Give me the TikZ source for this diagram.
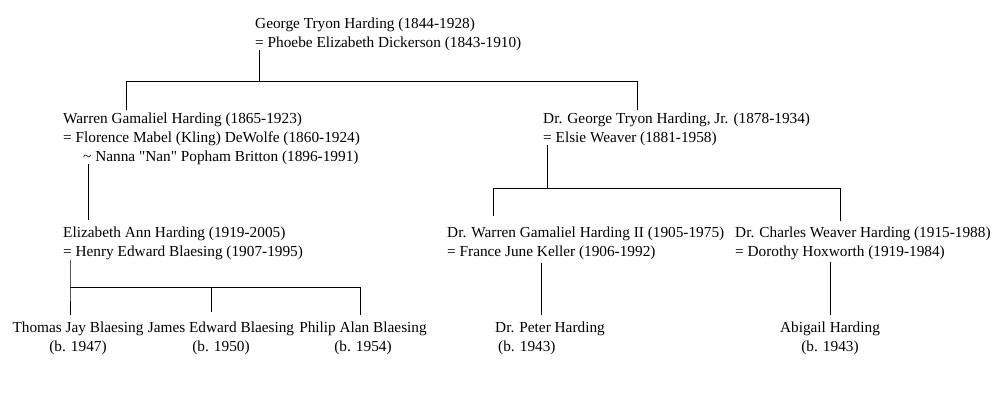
\documentclass[tikz,border=0pt]{standalone}
\usepackage{fontspec}
\setmainfont{Liberation Serif}

\begin{document}
\begin{tikzpicture}[x=1pt, y=1pt,
    person/.style={inner sep=0pt, align=left, anchor=base west, font=\fontsize{15.3}{19}\selectfont},
    kid/.style={inner sep=0pt, align=center, anchor=base, font=\fontsize{15.3}{19}\selectfont},
    link/.style={black, line width=0.9pt}]
\useasboundingbox (0,0) rectangle (1000,-400);
% first generation
\node[person] (gth) at (255,-47) {George Tryon Harding (1844-1928)\\= Phoebe Elizabeth Dickerson (1843-1910)};
% second generation
\node[person] (wgh) at (63,-161) {Warren Gamaliel Harding (1865-1923)\\= Florence Mabel (Kling) DeWolfe (1860-1924)\\\hspace*{20pt}\textasciitilde{} Nanna \textquotedbl Nan\textquotedbl{} Popham Britton (1896-1991)};
\node[person] (gtj) at (543,-142) {Dr. George Tryon Harding, Jr. (1878-1934)\\= Elsie Weaver (1881-1958)};
% third generation
\node[person] (eah) at (63,-256) {Elizabeth Ann Harding (1919-2005)\\= Henry Edward Blaesing (1907-1995)};
\node[person] (wg2) at (447,-256) {Dr. Warren Gamaliel Harding II (1905-1975)\\= France June Keller (1906-1992)};
\node[person] (cwh) at (735,-256) {Dr. Charles Weaver Harding (1915-1988)\\= Dorothy Hoxworth (1919-1984)};
% fourth generation
\node[kid] (tjb) at (78,-351) {Thomas Jay Blaesing\\(b. 1947)};
\node[kid] (jeb) at (221,-351) {James Edward Blaesing\\(b. 1950)};
\node[kid] (pab) at (363,-351) {Philip Alan Blaesing\\(b. 1954)};
\node[person] (dph) at (495,-351) {Dr. Peter Harding\\\hspace*{3pt}(b. 1943)};
\node[kid] (abh) at (830,-351) {Abigail Harding\\(b. 1943)};

% draw lines
\draw[link] ([xshift=4pt]gth.south west) -- ++(0,-31) coordinate (bar1);
\draw[link] ([xshift=63pt,yshift=2.5pt]wgh.north west) |- (bar1) -| ([xshift=94pt,yshift=2.5pt]gtj.north west);
\draw[link] ([xshift=25pt]wgh.south west) -- ([xshift=25pt,yshift=6.5pt]eah.north west);
\draw[link] ([xshift=4pt]gtj.south west) -- ++(0,-43) coordinate (bar2);
\draw[link] ([xshift=46pt,yshift=10.5pt]wg2.north west) |- (bar2) -| ([xshift=105pt,yshift=5.5pt]cwh.north west);
\draw[link] ([xshift=7pt]eah.south west) -- ++(0,-28) coordinate (bar3) -- ([xshift=-8pt,yshift=6.5pt]tjb.north);
\draw[link] ([xshift=-10pt,yshift=9.5pt]jeb.north) |- (bar3) -| ([xshift=-3pt,yshift=6.5pt]pab.north);
\draw[link] ([xshift=94pt,yshift=-4pt]wg2.south west) -- ([xshift=46pt,yshift=6.5pt]dph.north west);
\draw[link] ([xshift=95pt,yshift=-2pt]cwh.south west) -- ([yshift=6.5pt]abh.north);
\end{tikzpicture}
\end{document}
